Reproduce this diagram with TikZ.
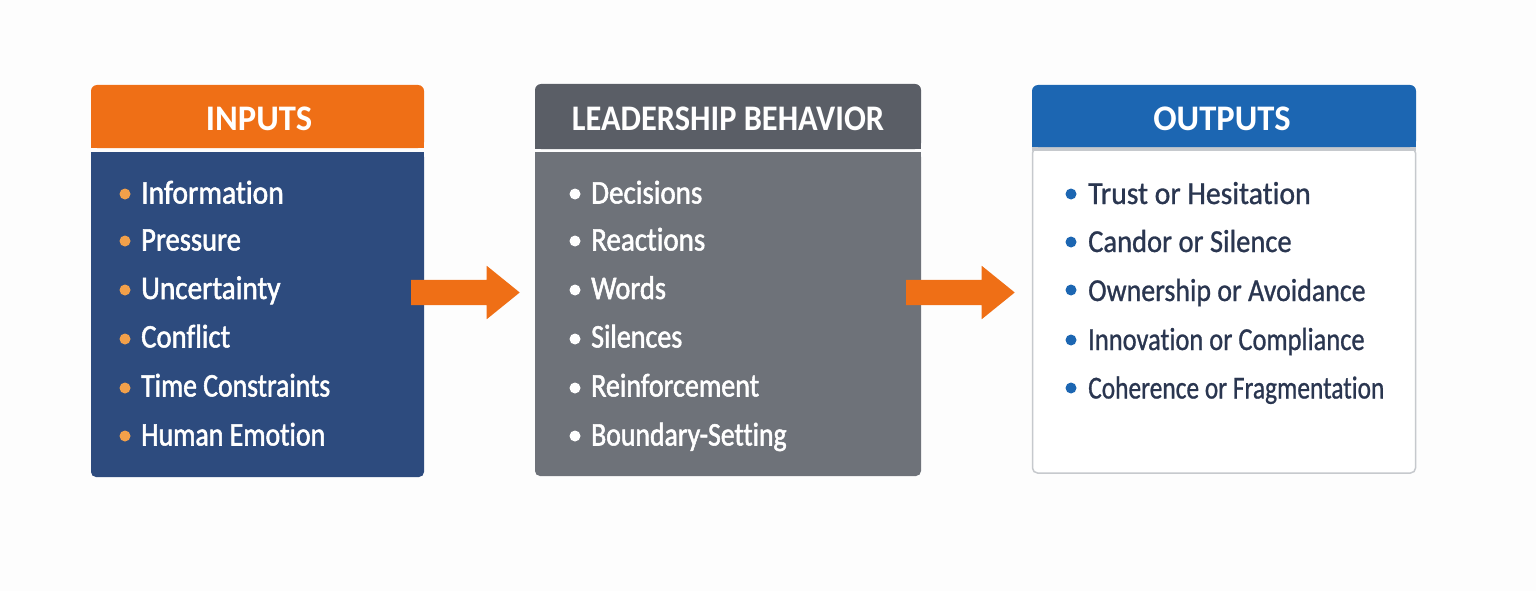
\documentclass[tikz,border=0pt]{standalone}
\usepackage{fontspec}
\usepackage{graphicx}
\setmainfont{Carlito}
\newfontfamily\hdfontA[FakeStretch=0.96,Ligatures=NoCommon]{Carlito}
\newfontfamily\hdfontB[FakeStretch=0.90,Ligatures=NoCommon]{Carlito}
\newfontfamily\whitefont[FakeStretch=0.84,FakeBold=1.6,Ligatures=NoCommon]{Carlito}
\newfontfamily\darkfont[FakeStretch=0.80,FakeBold=0.8,Ligatures=NoCommon]{Carlito}
\usetikzlibrary{shapes.arrows}
\definecolor{pagebg}{HTML}{FDFDFD}
\definecolor{orangeA}{HTML}{EF6F16}
\definecolor{navyA}{HTML}{2D4B7E}
\definecolor{grayHead}{HTML}{5A5E66}
\definecolor{grayBody}{HTML}{6E7279}
\definecolor{blueA}{HTML}{1C66B2}
\definecolor{inkA}{HTML}{2A3650}
\definecolor{dotA}{HTML}{F2A04A}
\definecolor{ruleA}{HTML}{C6C9CD}
\tikzset{
  x=1pt,y=-1pt,
  headtext/.style={anchor=base,inner sep=0pt,text=white},
  whiteitem/.style={anchor=base west,inner sep=0pt,text=white,font=\whitefont\fontsize{33}{33}\selectfont},
  darkitem/.style={anchor=base west,inner sep=0pt,text=inkA,font=\darkfont\fontsize{32}{32}\selectfont},
  blockarrow/.style={single arrow,fill=orangeA,draw=none,inner sep=12.5pt,anchor=west,
    minimum height=108.5pt,minimum width=53pt,single arrow head extend=14pt,
    single arrow tip angle=78},
}
\newcommand{\bul}[4]{\fill[#4] (#1,#2) circle (#3);}
\begin{document}
\begin{tikzpicture}
\useasboundingbox[fill=pagebg] (0,0) rectangle (1536,591);
% inputs
\fill[navyA,rounded corners=5pt] (91,152) -- (424,152) -- (424,477) -- (91,477) -- cycle;
\fill[navyA] (91,152) rectangle (424,165);
\fill[orangeA,rounded corners=6pt] (91,148) -- (91,85) -- (424,85) -- (424,148) -- cycle;
\fill[orangeA] (91,135) rectangle (424,148);
\node[headtext,font=\hdfontA\bfseries\fontsize{36}{36}\selectfont] (inputsHead) at (259,131) {INPUTS};
\foreach \nm/\t/\b/\c/\f in {i1/Information/203.5/194/1.068,i2/Pressure/250.5/241/1.03,i3/Uncertainty/299/290/1.053,i4/Conflict/347.5/339/1.035,i5/Time Constraints/396.5/388/1.0,i6/Human Emotion/445.5/436/1.005}{
  \node[whiteitem] (\nm) at (141,\b) {\scalebox{\f}[1]{\t}};
  \bul{125}{\c}{5.5pt}{dotA}
}
% leadership
\fill[grayBody,rounded corners=5pt] (535,152) -- (921,152) -- (921,476) -- (535,476) -- cycle;
\fill[grayBody] (535,152) rectangle (921,165);
\fill[grayHead,rounded corners=6pt] (535,149) -- (535,84) -- (921,84) -- (921,149) -- cycle;
\fill[grayHead] (535,135) rectangle (921,149);
\node[headtext,font=\hdfontB\bfseries\fontsize{36}{36}\selectfont] (leaderHead) at (728,131) {LEADERSHIP BEHAVIOR};
\foreach \nm/\t/\b/\c/\f in {m1/Decisions/203.5/194/1.047,m2/Reactions/250.5/241/1.046,m3/Words/299/290/1.027,m4/Silences/347.5/339/1.01,m5/Reinforcement/396.5/388/1.012,m6/Boundary-Setting/445.5/436/1.0}{
  \node[whiteitem] (\nm) at (591,\b) {\scalebox{\f}[1]{\t}};
  \bul{575}{\c}{5.5pt}{white}
}
% outputs
\filldraw[fill=white,draw=ruleA,line width=1.5pt,rounded corners=5pt] (1032.5,148) -- (1415.5,148) -- (1415.5,473) -- (1032.5,473) -- cycle;
\fill[ruleA] (1032,147) rectangle (1416,151);
\fill[blueA,rounded corners=6pt] (1032,147) -- (1032,85) -- (1416,85) -- (1416,147) -- cycle;
\fill[blueA] (1032,135) rectangle (1416,147);
\node[headtext,font=\hdfontA\bfseries\fontsize{36}{36}\selectfont] (outputsHead) at (1222,131) {OUTPUTS};
\foreach \nm/\t/\b/\c/\f in {o1/Trust or Hesitation/204/194/1.16,o2/Candor or Silence/252/242/1.115,o3/Ownership or Avoidance/301/290/1.09,o4/Innovation or Compliance/350/340/1.034,o5/Coherence or Fragmentation/398.5/388/0.993}{
  \node[darkitem] (\nm) at (1088,\b) {\scalebox{\f}[1]{\t}};
  \bul{1071}{\c}{5.5pt}{blueA}
}
% arrows
\node[blockarrow] (arrowA) at (411,292.5) {};
\node[blockarrow] (arrowB) at (906,292.5) {};
\end{tikzpicture}
\end{document}
